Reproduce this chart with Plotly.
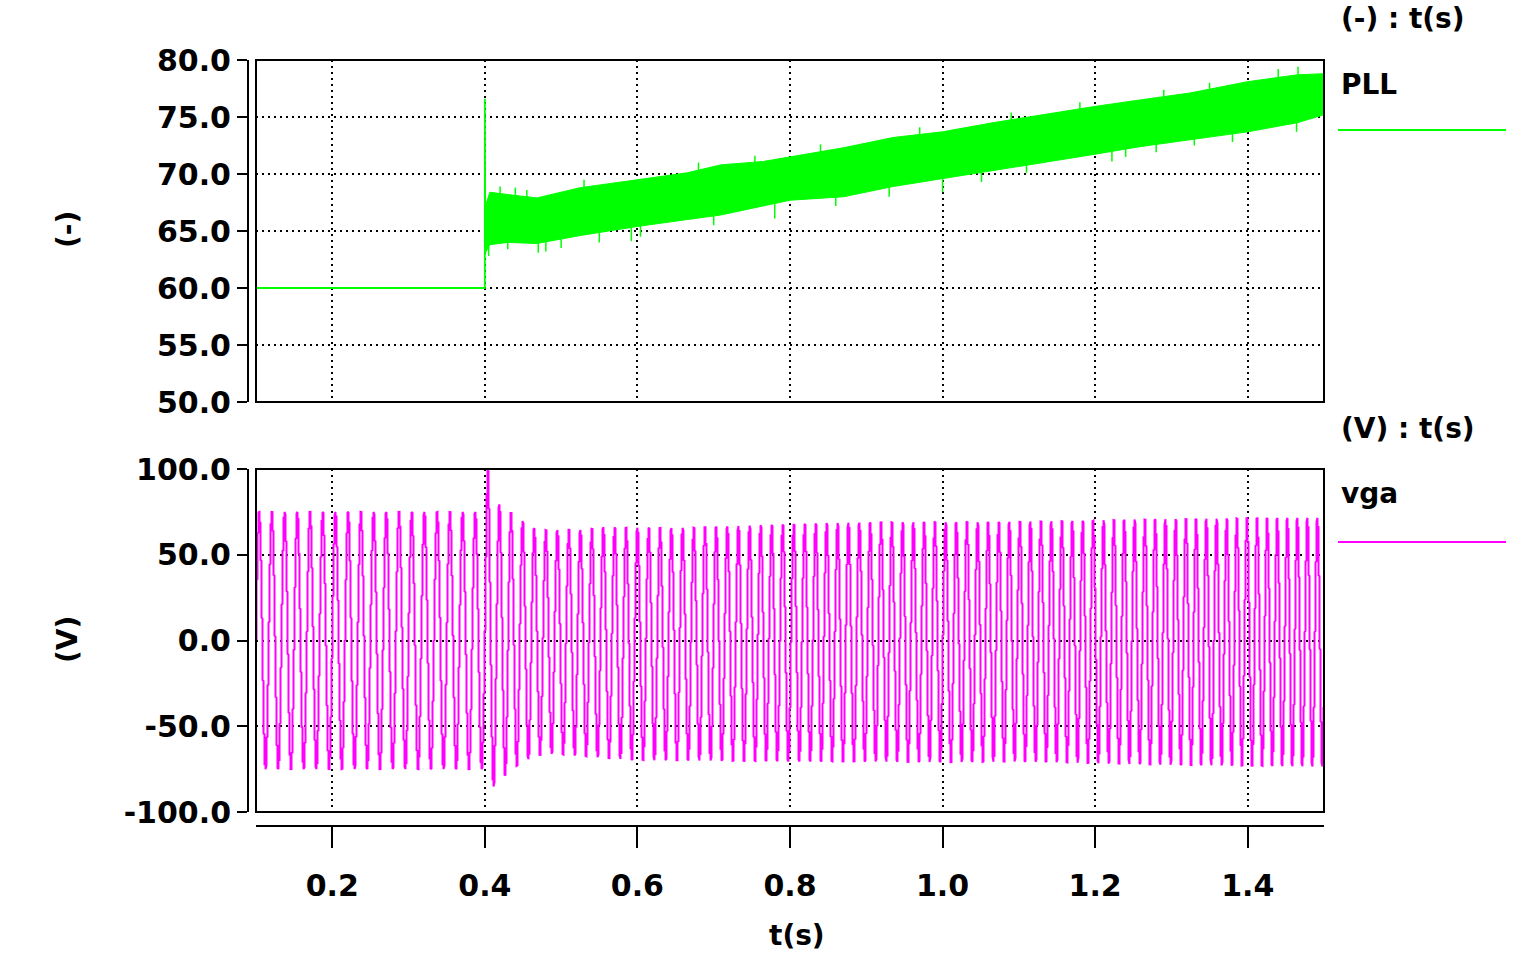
import numpy as np
import plotly.graph_objects as go

# ---------------- data ----------------
# PLL output (top panel)
pll_pre_t = [0.1, 0.4, 0.4, 0.4005]
pll_pre_v = [60.0, 60.0, 76.6, 64.5]

pll_env_t = [0.400, 0.4065, 0.430, 0.468, 0.525, 0.600, 0.665, 0.709, 0.765, 0.800,
             0.870, 0.935, 1.000, 1.066, 1.131, 1.197, 1.259, 1.324, 1.400, 1.465, 1.500]
pll_upper = [67.0, 68.4, 68.2, 67.9, 68.8, 69.5, 70.1, 70.8, 71.1, 71.5,
             72.3, 73.2, 73.7, 74.5, 75.2, 75.9, 76.5, 77.1, 78.1, 78.7, 78.8]
pll_lower = [63.0, 63.8, 64.0, 63.9, 64.6, 65.4, 66.0, 66.4, 67.2, 67.7,
             68.0, 68.9, 69.6, 70.35, 71.0, 71.7, 72.4, 73.0, 73.7, 74.5, 75.2]

# isolated spikes sticking out of the band: time, base, tip
spike_t = [0.405, 0.420, 0.430, 0.440, 0.455, 0.470, 0.480, 0.500, 0.530, 0.550,
           0.592, 0.604, 0.680, 0.700, 0.754, 0.780, 0.840, 0.860, 0.930, 0.970,
           1.000, 1.051, 1.090, 1.110, 1.180, 1.222, 1.240, 1.280, 1.290, 1.330,
           1.350, 1.380, 1.440, 1.464, 1.466]
spike_base = [65.0, 67.8, 64.5, 67.5, 67.5, 65.0, 65.0, 64.8, 68.5, 65.2,
              66.5, 66.5, 70.0, 66.8, 70.5, 68.5, 71.8, 68.5, 69.2, 73.2,
              70.5, 71.0, 74.5, 71.2, 75.5, 73.0, 72.6, 73.0, 76.0, 74.5,
              77.0, 74.0, 78.0, 75.5, 77.8]
spike_tip = [62.8, 68.9, 63.4, 68.8, 68.6, 63.1, 63.2, 63.5, 69.5, 64.0,
             64.1, 64.5, 71.0, 65.5, 71.6, 66.1, 72.6, 67.2, 68.0, 74.1,
             68.4, 69.3, 75.4, 70.1, 76.3, 71.1, 71.5, 71.9, 77.4, 72.5,
             78.0, 72.8, 79.2, 73.7, 79.4]

# vga (bottom panel): frequency and positive/negative peak envelopes
vga_f_t = [0.100, 0.400, 0.4001, 0.470, 0.600, 0.700, 0.800, 0.900, 1.000, 1.100, 1.200, 1.300, 1.400, 1.500]
vga_f = [60.0, 60.0, 65.5, 65.8, 67.3, 68.3, 69.3, 70.3, 71.3, 72.4, 73.4, 74.4, 75.4, 76.4]

vga_pk_t = [0.100, 0.400, 0.4038, 0.4165, 0.4322, 0.4484, 0.4629, 0.4777, 0.530, 0.553,
            0.650, 0.750, 0.850, 0.950, 1.050, 1.150, 1.250, 1.350, 1.450, 1.500]
vga_pk = [75.0, 75.0, 100.0, 80.2, 75.0, 70.0, 65.6, 64.4, 64.5, 66.0,
          65.5, 67.0, 68.5, 69.0, 69.0, 69.5, 70.5, 71.0, 71.5, 71.5]
vga_tr_t = [0.100, 0.400, 0.4095, 0.4244, 0.4397, 0.455, 0.4703, 0.4856, 0.5468, 0.5927,
            0.700, 0.800, 0.900, 1.000, 1.100, 1.200, 1.300, 1.400, 1.500]
vga_tr = [75.0, 75.0, 86.0, 79.6, 73.8, 69.7, 66.8, 66.0, 68.0, 69.7,
          70.0, 70.5, 70.5, 71.0, 70.5, 71.5, 72.5, 73.0, 73.5]

x_ticks = [0.2, 0.4, 0.6, 0.8, 1.0, 1.2, 1.4]
x_ticklabels = ["0.2", "0.4", "0.6", "0.8", "1.0", "1.2", "1.4"]
y1_ticks = [50, 55, 60, 65, 70, 75, 80]
y1_ticklabels = ["50.0", "55.0", "60.0", "65.0", "70.0", "75.0", "80.0"]
y2_ticks = [-100, -50, 0, 50, 100]
y2_ticklabels = ["-100.0", "-50.0", "0.0", "50.0", "100.0"]

# ---------------- build waveform from read frequency/envelopes ----------------
t = np.arange(0.1, 1.5 + 1e-9, 2e-5)
f = np.interp(t, vga_f_t, vga_f)
phase = 2 * np.pi * np.concatenate([[0.0], np.cumsum(0.5 * (f[1:] + f[:-1]) * np.diff(t))])
s = np.sin(phase)
a_pos = np.interp(t, vga_pk_t, vga_pk)
a_neg = np.interp(t, vga_tr_t, vga_tr)
vga = np.where(s >= 0, a_pos * s, a_neg * s)

# min/max decimation per screen column (like the original plotting tool)
n_cols = 1068
edges = np.linspace(0.1, 1.5, n_cols + 1)
idx = np.clip(np.searchsorted(edges, t, side="right") - 1, 0, n_cols - 1)
dec_t, dec_v = [], []
for c in range(n_cols):
    m = idx == c
    if not m.any():
        continue
    seg = vga[m]
    tc = 0.5 * (edges[c] + edges[c + 1])
    i_min, i_max = int(np.argmin(seg)), int(np.argmax(seg))
    if i_min < i_max:
        dec_t += [tc, tc]
        dec_v += [seg[i_min], seg[i_max]]
    else:
        dec_t += [tc, tc]
        dec_v += [seg[i_max], seg[i_min]]

# ---------------- figure ----------------
W, H = 1528, 956
def px(x):
    return x / W
def py(y):
    return 1 - y / H

GREEN = "#00ff00"
MAGENTA = "#ff00ff"
FONT = "DejaVu Sans"

fig = go.Figure()

# top panel
band_x = list(pll_env_t) + list(reversed(pll_env_t))
band_y = list(pll_upper) + list(reversed(pll_lower))
fig.add_trace(go.Scatter(x=band_x, y=band_y, mode="lines", fill="toself",
                         fillcolor=GREEN, line=dict(color=GREEN, width=1),
                         xaxis="x", yaxis="y", hoverinfo="skip", showlegend=False))
sx, sy = [], []
for tt, b, tip in zip(spike_t, spike_base, spike_tip):
    sx += [tt, tt, None]
    sy += [b, tip, None]
fig.add_trace(go.Scatter(x=sx, y=sy, mode="lines", line=dict(color=GREEN, width=1.5),
                         xaxis="x", yaxis="y", hoverinfo="skip", showlegend=False))
fig.add_trace(go.Scatter(x=pll_pre_t, y=pll_pre_v, mode="lines",
                         line=dict(color=GREEN, width=1.8),
                         xaxis="x", yaxis="y", showlegend=False))

# bottom panel
fig.add_trace(go.Scatter(x=dec_t, y=dec_v, mode="lines", line=dict(color=MAGENTA, width=2),
                         xaxis="x2", yaxis="y2", showlegend=False))

xdom = [px(256), px(1324)]
grid = dict(showgrid=True, gridcolor="black", gridwidth=1.5, griddash="2px,4px", zeroline=False)
tickfont = dict(family=FONT, size=30, color="black", weight="bold")

fig.update_layout(
    width=W, height=H, margin=dict(l=0, r=0, t=0, b=0),
    paper_bgcolor="white", plot_bgcolor="white",
    xaxis=dict(domain=xdom, range=[0.1, 1.5], anchor="y", matches="x2",
               tickvals=x_ticks, showticklabels=False, ticks="", showline=False, **grid),
    xaxis2=dict(domain=xdom, range=[0.1, 1.5], anchor="free", position=py(826),
                tickvals=x_ticks, ticktext=x_ticklabels, ticks="outside", ticklen=21,
                tickwidth=2, tickcolor="black", showline=True, linecolor="black", linewidth=2,
                tickfont=tickfont, ticklabelstandoff=12, automargin=False, **grid),
    yaxis=dict(domain=[py(402), py(60)], range=[50, 80], anchor="free", position=px(248),
               tickvals=y1_ticks, ticktext=y1_ticklabels, ticks="outside", ticklen=10,
               tickwidth=2, tickcolor="black", showline=True, linecolor="black", linewidth=2,
               tickfont=tickfont, automargin=False, **grid),
    yaxis2=dict(domain=[py(812), py(469)], range=[-100, 100], anchor="free", position=px(248),
                tickvals=y2_ticks, ticktext=y2_ticklabels, ticks="outside", ticklen=10,
                tickwidth=2, tickcolor="black", showline=True, linecolor="black", linewidth=2,
                tickfont=tickfont, automargin=False, **grid),
)

# plot boxes
for xr, yr in [("x domain", "y domain"), ("x2 domain", "y2 domain")]:
    fig.add_shape(type="rect", xref=xr, yref=yr, x0=0, x1=1, y0=0, y1=1,
                  line=dict(color="black", width=2))

# legend lines
fig.add_shape(type="line", xref="paper", yref="paper", x0=px(1338), x1=px(1506),
              y0=py(130), y1=py(130), line=dict(color=GREEN, width=2))
fig.add_shape(type="line", xref="paper", yref="paper", x0=px(1338), x1=px(1506),
              y0=py(542), y1=py(542), line=dict(color=MAGENTA, width=2))

afont = dict(family=FONT, size=28, color="black", weight="bold")
for text, x, y, ang, xa in [
    ("(-) : t(s)", 1339, 18, 0, "left"),
    ("PLL", 1339, 85, 0, "left"),
    ("(V) : t(s)", 1339, 428, 0, "left"),
    ("vga", 1339, 493, 0, "left"),
    ("(-)", 67, 230, -90, "center"),
    ("(V)", 67, 640, -90, "center"),
    ("t(s)", 797, 935, 0, "center"),
]:
    fig.add_annotation(text=text, x=px(x), y=py(y), xref="paper", yref="paper",
                       xanchor=xa, yanchor="middle", showarrow=False, textangle=ang,
                       font=afont)

fig.write_html("out.html", config={"displayModeBar": False})
